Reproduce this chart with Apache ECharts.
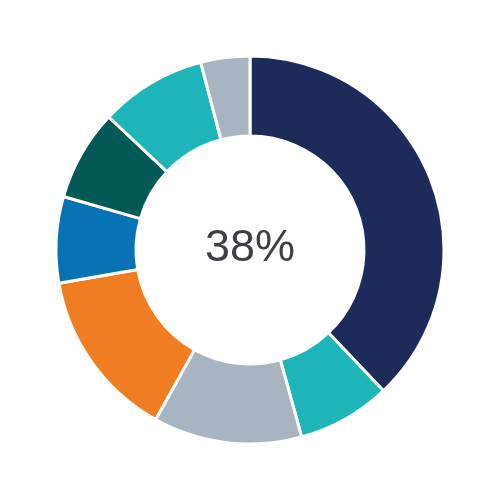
<!DOCTYPE html>
<html>
<head>
    <meta charset="utf-8"/>
    <title>Donut</title>
    <script src="https://cdn.jsdelivr.net/npm/echarts@6/dist/echarts.min.js"></script>
    <style>
        html, body { margin: 0; padding: 0; background: #fff; }
        #main { width: 500px; height: 500px; }
    </style>
</head>
<body>
<div id="main"></div>
<script>
    // slice shares, clockwise from 12 o'clock
    var names = ['A', 'B', 'C', 'D', 'E', 'F', 'G', 'H'];
    var values = [38, 7.8, 12.4, 14.2, 7.2, 7.6, 8.9, 4.1];
    var colors = ['#1c2b5a', '#1db5b7', '#a9b4c2', '#f17d22', '#0872b5', '#035955', '#1db5b7', '#a9b4c2'];
    var centerLabel = '38%';

    var chart = echarts.init(document.getElementById('main'));

    var data = [];
    for (var i = 0; i < names.length; i++) {
        data.push({name: names[i], value: values[i], itemStyle: {color: colors[i]}});
    }

    chart.setOption({
        animation: false,
        graphic: [{
            type: 'text',
            left: 'center',
            top: 226,
            style: {
                text: centerLabel,
                fontFamily: 'Liberation Sans',
                fontSize: 45,
                fill: '#3d4147'
            }
        }],
        series: [{
            type: 'pie',
            center: [250, 250],
            radius: [114, 194],
            startAngle: 90,
            clockwise: true,
            label: {show: false},
            labelLine: {show: false},
            itemStyle: {borderColor: '#fff', borderWidth: 3},
            emphasis: {disabled: true},
            data: data
        }]
    });
</script>
</body>
</html>
